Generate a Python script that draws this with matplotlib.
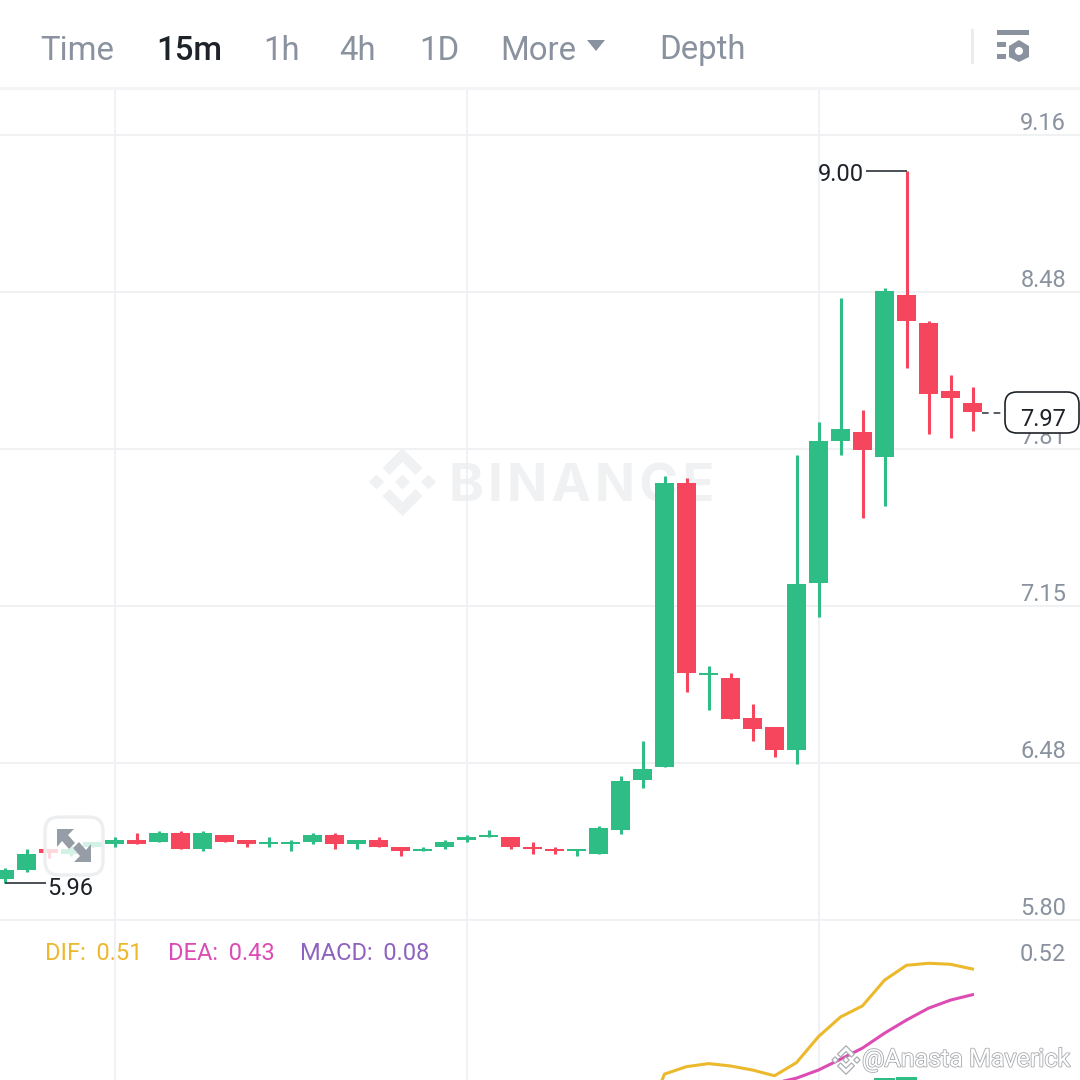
import matplotlib
matplotlib.use("Agg")
import matplotlib.pyplot as plt
from matplotlib import patheffects
from matplotlib.patches import FancyBboxPatch, Polygon

# candles, one list per field
opens = [5.975, 6.014, 6.102, 6.082, 6.113, 6.125, 6.142, 6.135, 6.174, 6.104, 6.164, 6.142, 6.125, 6.126, 6.135,
         6.164, 6.125, 6.142, 6.114, 6.094, 6.114, 6.144, 6.154, 6.154, 6.114, 6.104, 6.094, 6.084, 6.185, 6.399,
         6.455, 7.670, 6.849, 6.836, 6.665, 6.626, 6.528, 7.242, 7.850, 7.889, 7.782, 8.475, 8.355, 8.064, 8.013]
closes = [6.014, 6.082, 6.085, 6.102, 6.134, 6.142, 6.125, 6.174, 6.104, 6.174, 6.135, 6.125, 6.135, 6.135, 6.164,
          6.125, 6.142, 6.114, 6.094, 6.104, 6.134, 6.154, 6.164, 6.114, 6.104, 6.094, 6.104, 6.192, 6.395, 6.446,
          7.670, 6.857, 6.857, 6.660, 6.617, 6.528, 7.238, 7.850, 7.901, 7.812, 8.492, 8.364, 8.051, 8.034, 7.974]
highs = [6.023, 6.104, 6.102, 6.117, 6.134, 6.154, 6.174, 6.182, 6.182, 6.182, 6.164, 6.142, 6.154, 6.142, 6.174,
         6.174, 6.142, 6.154, 6.114, 6.114, 6.142, 6.164, 6.184, 6.154, 6.134, 6.114, 6.104, 6.202, 6.416, 6.566,
         7.700, 7.692, 6.887, 6.857, 6.724, 6.626, 7.790, 7.931, 8.462, 7.983, 8.505, 9.006, 8.364, 8.133, 8.081]
lows = [5.958, 6.005, 6.065, 6.074, 6.113, 6.114, 6.125, 6.135, 6.104, 6.094, 6.135, 6.114, 6.114, 6.094, 6.125,
        6.104, 6.104, 6.114, 6.074, 6.094, 6.104, 6.134, 6.154, 6.104, 6.084, 6.084, 6.074, 6.084, 6.168, 6.365,
        6.455, 6.776, 6.699, 6.660, 6.566, 6.498, 6.468, 7.097, 7.790, 7.521, 7.572, 8.163, 7.880, 7.863, 7.893]

price_ticks = [5.80, 6.472, 7.144, 7.816, 8.488, 9.16]
price_labels = ["5.80", "6.48", "7.15", "7.81", "8.48", "9.16"]
time_grid = [5, 21, 37]
last_price = 7.97

# MACD panel, only the visible tail of the series
macd_x = [29, 30, 31, 32, 33, 34, 35, 36, 37, 38, 39, 40, 41, 42, 43, 44]
dif = [0.036, 0.196, 0.218, 0.227, 0.220, 0.208, 0.191, 0.230, 0.307, 0.365, 0.398, 0.474, 0.518, 0.524, 0.521, 0.507]
dea = [0.100, 0.125, 0.135, 0.142, 0.147, 0.149, 0.169, 0.184, 0.208, 0.240, 0.273, 0.317, 0.356, 0.391, 0.415, 0.431]
bar_x = [40, 41]
bar_vals = [0.183, 0.186]

tabs = ["Time", "15m", "1h", "4h", "1D", "More", "Depth"]
tab_x = [40, 156, 263, 339, 419, 500, 659]

GREEN = "#2ebd85"
RED = "#f6465d"
GREY = "#89929e"
DARK = "#1e2329"
GRID = "#eff0f2"
VGRID = "#eceef5"
YELLOW = "#ecb92c"
PINK = "#dc4cb4"
PURPLE = "#8f62c0"
FONT = "Roboto"
HAIR = "\u200a"

W = 1080
fig = plt.figure(figsize=(10.8, 10.8), dpi=100, facecolor="white")


def px_axes(left, top, right, bottom, z):
    # axes placed by pixel edges of the picture
    return fig.add_axes([left / W, 1 - bottom / W, (right - left) / W, (bottom - top) / W], zorder=z)


def idx_lim():
    # candle i sits at 4.5 + 22 * i pixels
    return -4.5 / 22, (W - 4.5) / 22


# background layer: watermark and header
bg = px_axes(0, 0, W, W, 0)
bg.set_xlim(0, W)
bg.set_ylim(W, 0)
bg.axis("off")


def logo(a, cx, cy, s, **kw):
    # binance mark from five polygons
    shapes = [[(0, -7.5), (7.5, 0), (0, 7.5), (-7.5, 0)],
              [(-26, -7.5), (-18.5, 0), (-26, 7.5), (-33.5, 0)],
              [(26, -7.5), (33.5, 0), (26, 7.5), (18.5, 0)],
              [(0, -34), (20, -14), (13, -7), (0, -20), (-13, -7), (-20, -14)],
              [(0, 34), (20, 14), (13, 7), (0, 20), (-13, 7), (-20, 14)]]
    for shp in shapes:
        a.add_patch(Polygon([(cx + p[0] * s, cy + p[1] * s) for p in shp], closed=True, **kw))


logo(bg, 402.5, 482, 1.0, facecolor="#f0f1f2", edgecolor="none")
bg.text(449, 482, HAIR.join("BINANCE"), family="Inter", fontweight="bold", fontsize=38, color="#f0f1f2",
        ha="left", va="center_baseline")

for lab, x in zip(tabs, tab_x):
    active = lab == "15m"
    bg.text(x, 47, lab, family=FONT, fontsize=23.7, color=DARK if active else GREY,
            fontweight="medium" if active else "normal", ha="left", va="center_baseline")
bg.add_patch(Polygon([(587, 40), (605, 40), (596, 51)], closed=True, facecolor=GREY, edgecolor="none"))
bg.plot([0, W], [88, 88], color="#f3f4f6", lw=2.2)
bg.plot([972, 972], [30, 62], color="#eaecef", lw=2.2)

# settings icon
bg.fill_between([997, 1029], 30, 35, color=GREY, lw=0)
bg.fill_between([997, 1006], 42, 47, color=GREY, lw=0)
bg.fill_between([997, 1006], 54, 59, color=GREY, lw=0)
bg.add_patch(Polygon([(1019, 40), (1029, 46), (1029, 57), (1019, 62), (1009, 57), (1009, 46)],
                     closed=True, facecolor=GREY, edgecolor="none"))
bg.add_patch(plt.Circle((1019, 51), 4, facecolor="white", edgecolor="none"))

# price panel
ax = px_axes(0, 90, W, 920, 1)
ax.patch.set_alpha(0)
ax.set_xlim(*idx_lim())
ax.set_ylim(5.80, 5.80 + 830 * 0.672 / 157)
for s in ax.spines.values():
    s.set_visible(False)
ax.set_xticks([])
ax.set_yticks(price_ticks)
ax.set_yticklabels([])
ax.tick_params(length=0)
ax.set_axisbelow(True)
ax.grid(axis="y", color=GRID, lw=1.3)
for t in time_grid:
    ax.axvline(t, color=VGRID, lw=1.1, zorder=0)

for tick, lab in zip(price_ticks, price_labels):
    ax.annotate(lab, (1, tick), xycoords=("axes fraction", "data"), xytext=(-10, 10), textcoords="offset points",
                family=FONT, fontsize=17, color=GREY, ha="right", va="center_baseline", annotation_clip=False,
                zorder=1)

xs = list(range(len(opens)))
colors = [GREEN if c >= o else RED for o, c in zip(opens, closes)]
ax.vlines(xs, lows, highs, colors=colors, lw=2.2, zorder=3, capstyle="butt")
ax.bar(xs, [abs(c - o) for o, c in zip(opens, closes)], bottom=[min(o, c) for o, c in zip(opens, closes)],
       width=0.86, color=colors, linewidth=0, zorder=3)

# high / low markers
hi_i = highs.index(max(highs))
lo_i = lows.index(min(lows))
ax.plot([hi_i - 1.86, hi_i], [max(highs)] * 2, color="#3c4248", lw=1.3, zorder=4, solid_capstyle="butt")
ax.text(hi_i - 1.93, 9.00, "9.00", family=FONT, fontsize=17, color=DARK, ha="right", va="center_baseline", zorder=4)
ax.plot([lo_i, lo_i + 1.88], [min(lows)] * 2, color="#3c4248", lw=1.3, zorder=4, solid_capstyle="butt")
ax.text(lo_i + 1.93, 5.945, "5.96", family=FONT, fontsize=17, color=DARK, ha="left", va="center_baseline", zorder=4)

# last price tag
ax.plot([44.45, 45.4], [last_price] * 2, color="#3c4248", lw=1.2, ls=(0, (4, 3)), zorder=4)

# MACD panel
mx = px_axes(0, 920, W, W, 1)
mx.patch.set_alpha(0)
mx.set_xlim(*idx_lim())
mx.set_ylim(0.51 - 112 * 0.00296, 0.51 + 48 * 0.00296)
for s in mx.spines.values():
    s.set_visible(False)
mx.spines["top"].set_visible(True)
mx.spines["top"].set_color(GRID)
mx.spines["top"].set_linewidth(1.3)
mx.set_xticks([])
mx.set_yticks([])
for t in time_grid:
    mx.axvline(t, color=VGRID, lw=1.1, zorder=0)
mx.bar(bar_x, bar_vals, width=0.92, color=GREEN, linewidth=0, zorder=2)
mx.plot(macd_x, dif, color=YELLOW, lw=2.2, zorder=3)
mx.plot(macd_x, dea, color=PINK, lw=2.2, zorder=3)

# foreground layer: legend, tag, expand button, user mark
fg = px_axes(0, 0, W, W, 2)
fg.patch.set_alpha(0)
fg.set_xlim(0, W)
fg.set_ylim(W, 0)
fg.axis("off")

fg.text(45, 951, "DIF:" + HAIR * 2 + " 0.51", family=FONT, fontsize=17, color=YELLOW, ha="left", va="center_baseline")
fg.text(168, 951, "DEA:" + HAIR * 2 + " 0.43", family=FONT, fontsize=17, color=PINK, ha="left", va="center_baseline")
fg.text(300, 951, "MACD:" + HAIR * 2 + " 0.08", family=FONT, fontsize=17, color=PURPLE, ha="left", va="center_baseline")
fg.text(1066, 952, "0.52", family=FONT, fontsize=17, color=GREY, ha="right", va="center_baseline")

fg.add_patch(FancyBboxPatch((1005, 392), 74, 41, boxstyle="round,pad=0,rounding_size=12",
                            facecolor="white", edgecolor=DARK, lw=1.2))
fg.text(1043, 417, "7.97", family=FONT, fontsize=17, color=DARK, ha="center", va="center_baseline")

fg.add_patch(FancyBboxPatch((45, 817), 58, 58, boxstyle="round,pad=0,rounding_size=14",
                            facecolor=(1, 1, 1, 0.8), edgecolor="#eceef0", lw=2.4))
fg.add_patch(Polygon([(57, 829), (74, 829), (68, 835), (75, 843), (69, 849), (62, 841), (57, 847)],
                     closed=True, facecolor="#979da6", edgecolor="none"))
fg.add_patch(Polygon([(91, 862), (74, 862), (80, 856), (73, 848), (79, 842), (86, 850), (91, 844)],
                     closed=True, facecolor="#979da6", edgecolor="none"))

logo(fg, 846, 1060, 0.42, facecolor="white", edgecolor="#a9adb2", lw=0.9)
fg.text(862, 1057, "@Anasta Maverick", family=FONT, fontsize=18, color="white", ha="left", va="center_baseline",
        path_effects=[patheffects.withStroke(linewidth=1.2, foreground="#a6a9ad")])

fig.savefig("out.png", dpi=100)
